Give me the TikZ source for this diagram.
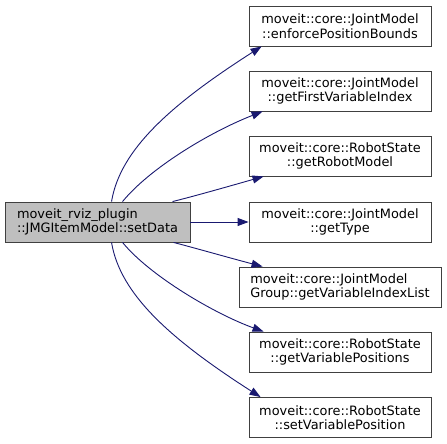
\documentclass[tikz,border=0pt]{standalone}
\usepackage{fontspec}
\setmainfont{DejaVu Sans}
\usetikzlibrary{arrows.meta}
\definecolor{edgeblue}{HTML}{191970}
\definecolor{boxgray}{HTML}{BFBFBF}
\definecolor{boxline}{HTML}{404040}
\tikzset{
  fn/.style={draw=boxline, line width=0.9pt, fill=white, inner sep=0pt, minimum height=40pt,
    font=\fontsize{12.9}{14.6}\selectfont, align=center},
  cur/.style={fn, fill=boxgray, align=left},
  call/.style={draw=edgeblue, line width=0.9pt, -{Triangle[length=11pt,width=8pt]}}
}
\begin{document}
\begin{tikzpicture}[x=1pt,y=-1pt]
\useasboundingbox (0,0) rectangle (447,444);
\node[cur, minimum width=185pt] (L) at (97.5,222) {moveit\_rviz\_plugin\\::JMGItemModel::setData};
\node[fn, minimum width=182pt] (n1) at (340,26) {moveit::core::JointModel\\::enforcePositionBounds};
\node[fn, minimum width=182pt] (n2) at (340,91) {moveit::core::JointModel\\::getFirstVariableIndex};
\node[fn, minimum width=182pt] (n3) at (340,156) {moveit::core::RobotState\\::getRobotModel};
\node[fn, minimum width=182pt] (n4) at (340,222) {moveit::core::JointModel\\::getType};
\node[fn, minimum width=202pt, align=left] (n5) at (340,287) {moveit::core::JointModel\\Group::getVariableIndexList};
\node[fn, minimum width=182pt] (n6) at (340,352) {moveit::core::RobotState\\::getVariablePositions};
\node[fn, minimum width=182pt] (n7) at (340,417.5) {moveit::core::RobotState\\::setVariablePosition};

\draw[call] ([xshift=107pt]L.north west) .. controls (120,150) and (170,105) .. ([xshift=13pt]n1.south west);
\draw[call] ([xshift=118pt]L.north west) .. controls (150,168) and (210,132) .. ([xshift=14pt]n2.south west);
\draw[call] ([xshift=168pt]L.north west) .. controls (195,196) and (230,186) .. ([xshift=15pt]n3.south west);
\draw[call] (L.east) -- (n4.west);
\draw[call] ([xshift=169pt]L.south west) .. controls (195,248) and (230,258) .. ([xshift=24pt]n5.north west);
\draw[call] ([xshift=118pt]L.south west) .. controls (150,276) and (215,314) .. ([xshift=15pt]n6.north west);
\draw[call] ([xshift=107pt]L.south west) .. controls (120,294) and (170,339) .. ([xshift=12pt]n7.north west);
\end{tikzpicture}
\end{document}
